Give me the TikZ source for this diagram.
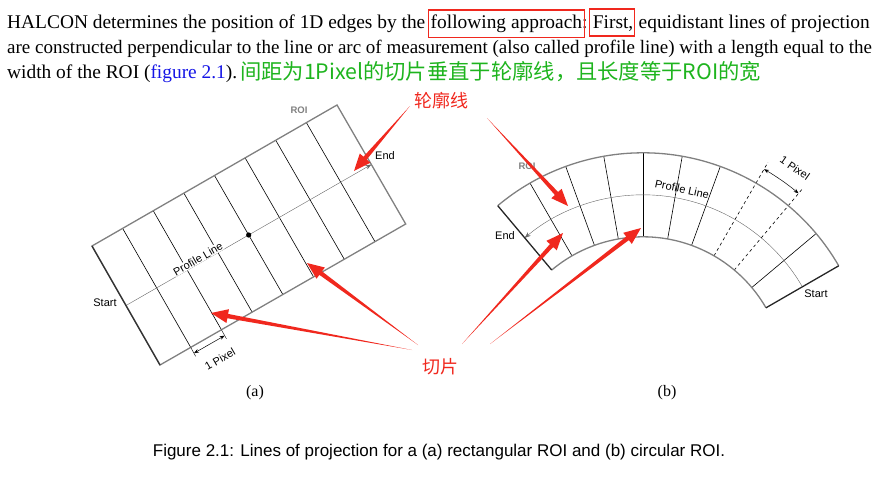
\documentclass[tikz,border=0pt]{standalone}
\usepackage{fontspec}
\setmainfont{Liberation Serif}
\setsansfont{Liberation Sans}
\newfontfamily\cjk{Noto Sans CJK SC}
\usetikzlibrary{calc,arrows.meta}
\definecolor{cgreen}{RGB}{30,180,30}
\definecolor{cred}{RGB}{240,40,30}
\definecolor{cblue}{RGB}{20,20,230}
\tikzset{
  body/.style={font=\fontsize{19.4}{22}\selectfont, inner sep=0pt, anchor=base west},
  lbl/.style={font=\sffamily\fontsize{11}{13}\selectfont, inner sep=1pt},
  roiedge/.style={draw=gray, line width=1.3pt},
  slice/.style={draw=black, line width=0.6pt},
  prof/.style={draw=gray!80!black, line width=0.4pt},
  redbox/.style={draw=cred, line width=1.6pt},
  dim/.style={line width=0.5pt, {Stealth[length=5pt]}-{Stealth[length=5pt]}},
}
\newcommand\redtaper[2]{%
  \fill[cred] (#1) -- ($($(#2)!17pt!(#1)$)!2.2pt!90:(#2)$) -- ($($(#2)!17pt!(#1)$)!7pt!90:(#2)$) -- (#2)
   -- ($($(#2)!17pt!(#1)$)!7pt!-90:(#2)$) -- ($($(#2)!17pt!(#1)$)!2.2pt!-90:(#2)$) -- cycle;}
\begin{document}
\begin{tikzpicture}[x=1pt,y=-1pt]
\useasboundingbox (0,0) rectangle (892,477);
% ---- text ----
\node[body] (l1a) at (7,28) {HALCON determines the position of 1D edges by the};
\node[body] (l1b) at ($(l1a.base east)+(5,0)$) {following approach:};
\node[body] (l1c) at ($(l1b.base east)+(5,0)$) {First,};
\node[body] (l1d) at ($(l1c.base east)+(5,0)$) {equidistant lines of projection};
\node[body, font=\fontsize{19}{22}\selectfont] (l2) at (7,53) {are constructed perpendicular to the line or arc of measurement (also called profile line) with a length equal to the};
\node[body] (l3) at (7,78) {width of the ROI (\textcolor{cblue}{figure 2.1}).};
\node[body, font=\cjk\fontsize{21.3}{24}\selectfont, text=cgreen] (cn) at (240,79) {间距为1Pixel的切片垂直于轮廓线，且长度等于ROI的宽};
\draw[redbox] ($(l1b.north west)+(-2,-4)$) rectangle ($(l1b.east|-l1b.south)+(-3,5)$);
\draw[redbox] ($(l1c.north west)+(-3,-6)$) rectangle ($(l1c.south east)+(1,5)$);
% ---- left rectangle ----
\coordinate (A) at (92,246);
\coordinate (B) at (337,105);
\coordinate (C) at (405.7,224);
\coordinate (D) at (160,365);
\foreach \k in {1,...,7}{
  \draw[slice] ($(A)!\k/8!(B)$) -- ($(D)!\k/8!(C)$);
}
\coordinate (PS) at ($(A)!0.5!(D)$);
\coordinate (PE) at ($(B)!0.5!(C)$);
\draw[prof, -{Stealth[length=6pt]}] (PS) -- (PE);
\fill ($(PS)!0.5!(PE)$) circle (2.6pt);
\draw[roiedge] (A) -- (B) -- (C) -- (D) -- cycle;
\draw[draw=black!80, line width=1.3pt] (A) -- (D);
\node[lbl, rotate=30, fill=white, inner sep=0.5pt] (pl) at (198,259) {Profile Line};
\node[lbl] (st) at (105,303) {Start};
\node[lbl] (en) at (385,156) {End};
\node[lbl, text=gray, font=\sffamily\bfseries\fontsize{9.5}{11}\selectfont] (roi) at (299,110) {ROI};
\coordinate (d1) at ($(D)!1/8!(C)$);
\coordinate (d2) at ($(D)!2/8!(C)$);
\draw[line width=0.4pt] (d1) -- ++(5,9) coordinate (d1e);
\draw[line width=0.4pt] (d2) -- ++(5,9) coordinate (d2e);
\draw[dim] ($(d1)!0.65!(d1e)$) -- ($(d2)!0.65!(d2e)$);
\node[lbl, rotate=30] (px1) at (220,359) {1 Pixel};
% ---- right arc ----
\coordinate (O) at (643,378.8);
\foreach \t in {40,70,80,90,100,110,120}{
  \draw[slice] ($(O)+(-\t:142)$) -- ($(O)+(-\t:226)$);
}
\foreach \t in {50,60}{
  \draw[slice, dashed] ($(O)+(-\t:142)$) -- ($(O)+(-\t:250)$);
}
\draw[dim] ($(O)+(-50:242)$) arc[start angle=-50, end angle=-60, radius=242];
\draw[prof, -{Stealth[length=6pt]}] ($(O)+(-30:184)$) arc[start angle=-30, end angle=-130, radius=184];
\draw[roiedge] ($(O)+(-30:226)$) arc[start angle=-30, end angle=-130, radius=226];
\draw[roiedge] ($(O)+(-30:142)$) arc[start angle=-30, end angle=-130, radius=142];
\draw[draw=black!85, line width=1.3pt] ($(O)+(-30:142)$) -- ($(O)+(-30:226)$);
\draw[draw=black!85, line width=1.3pt] ($(O)+(-130:142)$) -- ($(O)+(-130:226)$);
\node[lbl, rotate=-12] (pl2) at (682,189) {Profile Line};
\node[lbl] (en2) at (505,236) {End};
\node[lbl] (st2) at (816,294) {Start};
\node[lbl, text=gray, font=\sffamily\bfseries\fontsize{9.5}{11}\selectfont] (roi2) at (527,166) {ROI};
\node[lbl, rotate=-35] (px2) at (795,168) {1 Pixel};
% ---- captions ----
\node[font=\fontsize{16}{18}\selectfont] (ca) at (255,393) {(a)};
\node[font=\fontsize{16}{18}\selectfont] (cb) at (667,393) {(b)};
\node[font=\sffamily\fontsize{17}{20}\selectfont] (cap) at (439,452) {Figure 2.1: Lines of projection for a (a) rectangular ROI and (b) circular ROI.};
% ---- red annotations ----
\node[text=cred, font=\cjk\fontsize{18}{20}\selectfont, inner sep=1pt] (lk) at (441,101) {轮廓线};
\node[text=cred, font=\cjk\fontsize{18}{20}\selectfont, inner sep=1pt] (qp) at (440,367) {切片};
\coordinate (t1) at (354,171);
\coordinate (t2) at (568,206);
\coordinate (t3) at (211,313);
\coordinate (t4) at (307,263);
\coordinate (t5) at (563,233);
\coordinate (t6) at (641,228);
\coordinate (s1) at (410,106);
\coordinate (s2) at (487,118);
\coordinate (s3) at (412,350);
\coordinate (s4) at (418,345);
\coordinate (s5) at (462,344);
\coordinate (s6) at (490,344);
\redtaper{s1}{t1}
\redtaper{s2}{t2}
\redtaper{s3}{t3}
\redtaper{s4}{t4}
\redtaper{s5}{t5}
\redtaper{s6}{t6}
\end{tikzpicture}
\end{document}
